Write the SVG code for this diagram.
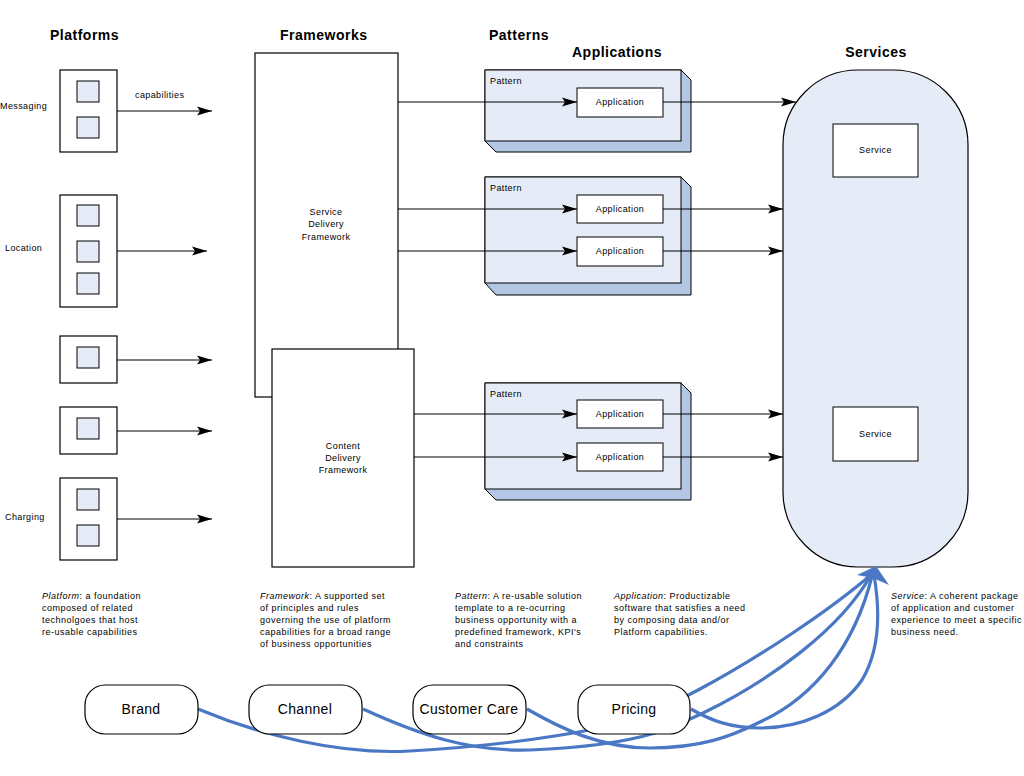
<svg xmlns="http://www.w3.org/2000/svg" width="1024" height="776" viewBox="0 0 1024 776">
<defs>
<style>
text{font-family:"Liberation Sans",Arial,sans-serif;fill:#000}
.h{font-size:14px;font-weight:bold;letter-spacing:0.5px}
.s{font-size:9px;letter-spacing:0.4px}
.d{font-size:9px;letter-spacing:0.5px}
.b{font-size:14px;letter-spacing:0.3px}
.box{fill:#fff;stroke:#000;stroke-width:1.2}
.sq{fill:#e6ecf7;stroke:#000;stroke-width:1}
.ln{stroke:#000;stroke-width:1.2;fill:none;marker-end:url(#arr)}
.face{fill:#b3c6e4;stroke:#000;stroke-width:1}
.front{fill:#e6ecf7;stroke:#000;stroke-width:1}
.app{fill:#fff;stroke:#000;stroke-width:1}
.bl{stroke:#4a78c4;stroke-width:3.2;fill:none}
.rb{fill:#fff;stroke:#000;stroke-width:1.2}
</style>
<marker id="arr" markerWidth="16" markerHeight="10" refX="15" refY="5" orient="auto" markerUnits="userSpaceOnUse">
<path d="M0,0.5 L15,5 L0,9.5 L3,5 z" fill="#000"/>
</marker>
</defs>
<rect width="1024" height="776" fill="#fff"/>

<g id="headers">
<text class="h" x="50" y="40">Platforms</text>
<text class="h" x="280" y="40">Frameworks</text>
<text class="h" x="489" y="40">Patterns</text>
<text class="h" x="617" y="57" text-anchor="middle">Applications</text>
<text class="h" x="876" y="57" text-anchor="middle">Services</text>
</g>

<g id="services">
<rect x="783" y="70" width="185" height="497" rx="75" ry="75" fill="#e6ecf7" stroke="#000" stroke-width="1.2"/>
<rect class="app" x="833" y="124" width="85" height="53"/>
<text class="s" x="875.5" y="153" text-anchor="middle">Service</text>
<rect class="app" x="833" y="407" width="85" height="54"/>
<text class="s" x="875.5" y="437" text-anchor="middle">Service</text>
</g>

<g id="platform-messaging">
<rect class="box" x="60" y="70" width="57" height="82"/>
<rect class="sq" x="77" y="81" width="22" height="21"/>
<rect class="sq" x="77" y="117" width="22" height="21"/>
<text class="s" x="0" y="109">Messaging</text>
</g>
<g id="platform-location">
<rect class="box" x="60" y="195" width="57" height="112"/>
<rect class="sq" x="77" y="205" width="22" height="21"/>
<rect class="sq" x="77" y="241" width="22" height="21"/>
<rect class="sq" x="77" y="273" width="22" height="21"/>
<text class="s" x="5" y="251">Location</text>
</g>
<g id="platform-3">
<rect class="box" x="60" y="336" width="57" height="47"/>
<rect class="sq" x="77" y="347" width="22" height="21"/>
</g>
<g id="platform-4">
<rect class="box" x="60" y="407" width="57" height="47"/>
<rect class="sq" x="77" y="418" width="22" height="21"/>
</g>
<g id="platform-charging">
<rect class="box" x="60" y="478" width="57" height="82"/>
<rect class="sq" x="77" y="489" width="22" height="21"/>
<rect class="sq" x="77" y="525" width="22" height="21"/>
<text class="s" x="5" y="520">Charging</text>
</g>

<g id="framework-service">
<rect class="box" x="255" y="53" width="143" height="344"/>
<text class="s" x="326" y="215" text-anchor="middle">Service</text>
<text class="s" x="326" y="227" text-anchor="middle">Delivery</text>
<text class="s" x="326" y="240" text-anchor="middle">Framework</text>
</g>
<g id="framework-content">
<rect class="box" x="272" y="349" width="142" height="218"/>
<text class="s" x="343" y="449" text-anchor="middle">Content</text>
<text class="s" x="343" y="461" text-anchor="middle">Delivery</text>
<text class="s" x="343" y="473" text-anchor="middle">Framework</text>
</g>

<g id="pattern-1">
<polygon class="face" points="485,70 681,70 691,80 691,152 496,152 485,141"/>
<rect class="front" x="485" y="70" width="196" height="71"/>
<text class="s" x="490" y="84">Pattern</text>
</g>
<g id="pattern-2">
<polygon class="face" points="485,177 681,177 691,187 691,295 496,295 485,283"/>
<rect class="front" x="485" y="177" width="196" height="106"/>
<text class="s" x="490" y="191">Pattern</text>
</g>
<g id="pattern-3">
<polygon class="face" points="485,383 681,383 691,393 691,500 496,500 485,489"/>
<rect class="front" x="485" y="383" width="196" height="106"/>
<text class="s" x="490" y="397">Pattern</text>
</g>

<g id="app-1"><rect class="app" x="577" y="88" width="86" height="29"/><text class="s" x="620" y="105" text-anchor="middle">Application</text></g>
<g id="app-2"><rect class="app" x="577" y="195" width="86" height="28"/><text class="s" x="620" y="212" text-anchor="middle">Application</text></g>
<g id="app-3"><rect class="app" x="577" y="237" width="86" height="29"/><text class="s" x="620" y="254" text-anchor="middle">Application</text></g>
<g id="app-4"><rect class="app" x="577" y="400" width="86" height="28"/><text class="s" x="620" y="417" text-anchor="middle">Application</text></g>
<g id="app-5"><rect class="app" x="577" y="443" width="86" height="28"/><text class="s" x="620" y="460" text-anchor="middle">Application</text></g>

<g id="connectors">
<line class="ln" x1="117" y1="111" x2="212" y2="111"/>
<line class="ln" x1="117" y1="251" x2="207" y2="251"/>
<line class="ln" x1="117" y1="360" x2="212" y2="360"/>
<line class="ln" x1="117" y1="431" x2="212" y2="431"/>
<line class="ln" x1="117" y1="519" x2="212" y2="519"/>
<line class="ln" x1="398" y1="102" x2="577" y2="102"/>
<line class="ln" x1="398" y1="209" x2="577" y2="209"/>
<line class="ln" x1="398" y1="251" x2="577" y2="251"/>
<line class="ln" x1="414" y1="414" x2="577" y2="414"/>
<line class="ln" x1="414" y1="457" x2="577" y2="457"/>
<line class="ln" x1="663" y1="102" x2="796" y2="102"/>
<line class="ln" x1="663" y1="209" x2="783" y2="209"/>
<line class="ln" x1="663" y1="251" x2="783" y2="251"/>
<line class="ln" x1="663" y1="414" x2="783" y2="414"/>
<line class="ln" x1="663" y1="457" x2="783" y2="457"/>
<text class="s" x="135" y="98">capabilities</text>
<path class="bl" d="M198,709 C260,735 340,755 410,751 C480,747 540,740 600,728 C640,720 670,705 700,689 C760,657 830,610 872,574"/>
<path class="bl" d="M363,709 C420,735 470,752 530,750 C580,748 625,742 655,733 C675,727 690,719 705,712 C770,680 840,630 871,575"/>
<path class="bl" d="M527,709 C560,728 600,748 650,748 C700,748 730,737 760,722 C815,697 855,645 872,576"/>
<path class="bl" d="M691,709 C710,720 730,728 760,728 C800,728 840,712 862,680 C880,650 880,610 874,575"/>
<polygon points="857,575 876,566 889,585 873,578" fill="#4a78c4"/>
</g>

<g id="bottom-brand"><rect class="rb" x="85" y="685" width="113" height="49" rx="20"/><text class="b" x="141" y="714" text-anchor="middle">Brand</text></g>
<g id="bottom-channel"><rect class="rb" x="249" y="685" width="113" height="49" rx="20"/><text class="b" x="305" y="714" text-anchor="middle">Channel</text></g>
<g id="bottom-customer-care"><rect class="rb" x="413" y="685" width="113" height="49" rx="20"/><text class="b" x="469" y="714" text-anchor="middle">Customer Care</text></g>
<g id="bottom-pricing"><rect class="rb" x="578" y="685" width="112" height="49" rx="20"/><text class="b" x="634" y="714" text-anchor="middle">Pricing</text></g>

<g id="descriptions">
<text class="d" x="42" y="599"><tspan font-style="italic">Platform</tspan>: a foundation</text>
<text class="d" x="42" y="611">composed of related</text>
<text class="d" x="42" y="623">technolgoes that host</text>
<text class="d" x="42" y="635">re-usable capabilities</text>

<text class="d" x="260" y="599"><tspan font-style="italic">Framework</tspan>: A supported set</text>
<text class="d" x="260" y="611">of principles and rules</text>
<text class="d" x="260" y="623">governing the use of platform</text>
<text class="d" x="260" y="635">capabilities for a broad range</text>
<text class="d" x="260" y="647">of business opportunities</text>

<text class="d" x="455" y="599"><tspan font-style="italic">Pattern</tspan>: A re-usable solution</text>
<text class="d" x="455" y="611">template to a re-ocurring</text>
<text class="d" x="455" y="623">business opportunity with a</text>
<text class="d" x="455" y="635">predefined framework, KPI's</text>
<text class="d" x="455" y="647">and constraints</text>

<text class="d" x="614" y="599"><tspan font-style="italic">Application</tspan>: Productizable</text>
<text class="d" x="614" y="611">software that satisfies a need</text>
<text class="d" x="614" y="623">by composing data and/or</text>
<text class="d" x="614" y="635">Platform capabilities.</text>

<text class="d" x="891" y="599"><tspan font-style="italic">Service</tspan>: A coherent package</text>
<text class="d" x="891" y="611">of application and customer</text>
<text class="d" x="891" y="623">experience to meet a specific</text>
<text class="d" x="891" y="635">business need.</text>
</g>
</svg>
